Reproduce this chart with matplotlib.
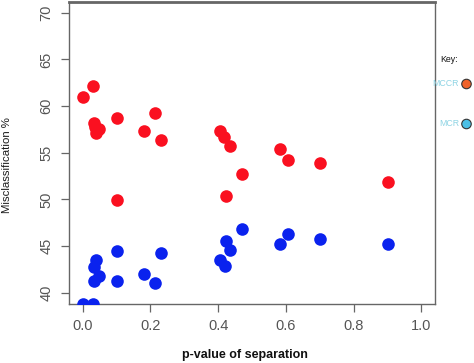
import matplotlib
matplotlib.use("Agg")
import matplotlib.pyplot as plt

# p-value of separation vs misclassification %
mccr_p = [0.002, 0.032, 0.034, 0.037, 0.048, 0.040, 0.103, 0.181, 0.213, 0.231,
          0.407, 0.418, 0.435, 0.471, 0.584, 0.605, 0.700, 0.901, 0.102, 0.423]
mccr_err = [61.0, 62.2, 58.2, 57.8, 57.5, 57.1, 58.7, 57.3, 59.25, 56.4,
            57.3, 56.7, 55.7, 52.75, 55.4, 54.25, 53.9, 51.9, 49.9, 50.4]

mcr_p = [0.0, 0.032, 0.040, 0.034, 0.049, 0.034, 0.102, 0.102, 0.181, 0.213,
         0.231, 0.407, 0.420, 0.423, 0.435, 0.471, 0.584, 0.605, 0.700, 0.901]
mcr_err = [38.8, 38.8, 43.55, 42.75, 41.8, 41.3, 44.5, 41.3, 42.0, 41.0,
           44.3, 43.55, 42.9, 45.5, 44.55, 46.8, 45.2, 46.3, 45.8, 45.25]

x_ticks = [0.0, 0.2, 0.4, 0.6, 0.8, 1.0]
y_ticks = [40, 45, 50, 55, 60, 65, 70]
key_labels = ["MCCR", "MCR"]
key_colors = ["#f0622a", "#4cc0e6"]

plt.rcParams["font.family"] = ["Liberation Sans", "DejaVu Sans"]

fig = plt.figure(figsize=(4.74, 3.63), dpi=100)
ax = fig.add_axes([69 / 474, 59 / 363, 366 / 474, 302.5 / 363])

ax.scatter(mccr_p, mccr_err, s=82, color="#fa1020", linewidths=0, zorder=3)
ax.scatter(mcr_p, mcr_err, s=82, color="#0a22ee", linewidths=0, zorder=3)

# R-style 4% padding around xlim c(0,1), ylim c(40,70)
ax.set_xlim(-0.04, 1.04)
ax.set_ylim(38.8, 71.2)
ax.set_xticks(x_ticks)
ax.set_xticklabels([f"{t:.1f}" for t in x_ticks])
ax.set_yticks(y_ticks)
ax.set_yticklabels([str(t) for t in y_ticks], rotation=90, va="center")

for s in ax.spines.values():
    s.set_color("#666666")
    s.set_linewidth(1.0)
ax.spines["top"].set_linewidth(2.0)
ax.tick_params(direction="out", length=6, width=0.9, color="#666666",
               labelcolor="#555555", labelsize=10.5, pad=5)

ax.set_xlabel("p-value of separation", fontsize=9, fontweight="bold",
              color="#111111")
ax.xaxis.set_label_coords((245 - 69) / 366, -(349 - 304) / 302.5)
ax.set_ylabel("Misclassification %", fontsize=8.2, color="#1a1a1a")
ax.yaxis.set_label_coords(-(69 - 12) / 366, (304 - 165) / 302.5)

# key drawn outside the axes, on the right
fig.text(440 / 474, 1 - 60 / 363, "Key:", fontsize=6.3, color="#111111", va="center")
for i, (lab, col) in enumerate(zip(key_labels, key_colors)):
    yk = 1 - (84 + 40 * i) / 363
    fig.text(459 / 474, yk, lab, fontsize=6.3, color="#8fd4e4", ha="right", va="center")
    fig.patches.append(matplotlib.patches.Ellipse(
        (466.5 / 474, yk), 9.5 / 474, 9.5 / 363, transform=fig.transFigure,
        facecolor=col, edgecolor="#333333", linewidth=0.8))

fig.savefig("out.png", dpi=100)
